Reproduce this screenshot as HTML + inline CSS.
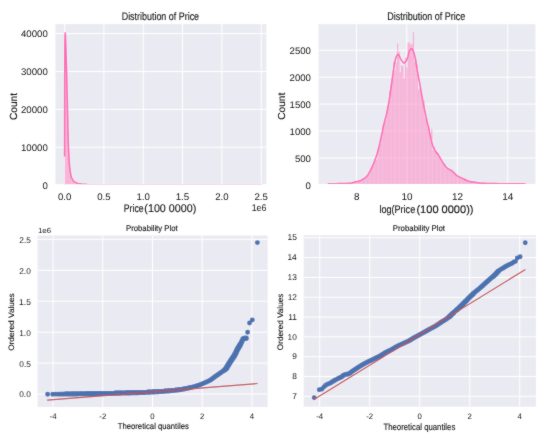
<!DOCTYPE html>
<html><head><meta charset="utf-8"><title>Price distribution</title>
<style>html,body{margin:0;padding:0;background:#fff;overflow:hidden}svg{display:block}</style>
</head><body><svg width="550" height="434" viewBox="0 0 550 434"><defs><filter id="bl" x="0" y="0" width="100%" height="100%" filterUnits="userSpaceOnUse"><feConvolveMatrix order="3" kernelMatrix="1 2 1 2 28 2 1 2 1" edgeMode="duplicate" preserveAlpha="false"/></filter></defs><g filter="url(#bl)"><rect x="0" y="0" width="550" height="434" fill="#fff"/><clipPath id="cTL"><rect x="55.5" y="24.1" width="210.8" height="160.1"/></clipPath><rect x="55.5" y="24.1" width="210.8" height="160.1" fill="#EAEAF2"/><path d="M64.6 24.1V184.2M103.92 24.1V184.2M143.25 24.1V184.2M182.57 24.1V184.2M221.9 24.1V184.2M261.23 24.1V184.2M55.5 185.2H266.3M55.5 147.3H266.3M55.5 109.4H266.3M55.5 71.5H266.3M55.5 33.6H266.3" stroke="#fff" stroke-width="1.0" fill="none" clip-path="url(#cTL)"/><clipPath id="cTR"><rect x="318.6" y="24.2" width="216.8" height="159.8"/></clipPath><rect x="318.6" y="24.2" width="216.8" height="159.8" fill="#EAEAF2"/><path d="M356.4 24.2V184M406.84 24.2V184M457.28 24.2V184M507.72 24.2V184M318.6 184.8H535.4M318.6 157.9H535.4M318.6 131H535.4M318.6 104.1H535.4M318.6 77.2H535.4M318.6 50.3H535.4" stroke="#fff" stroke-width="1.0" fill="none" clip-path="url(#cTR)"/><clipPath id="cBL"><rect x="37.6" y="235.5" width="230" height="171.5"/></clipPath><rect x="37.6" y="235.5" width="230" height="171.5" fill="#EAEAF2"/><path d="M53.1 235.5V407M102.8 235.5V407M152.5 235.5V407M202.2 235.5V407M251.9 235.5V407M37.6 394.05H267.6M37.6 363.12H267.6M37.6 332.19H267.6M37.6 301.26H267.6M37.6 270.33H267.6M37.6 239.4H267.6" stroke="#fff" stroke-width="1.0" fill="none" clip-path="url(#cBL)"/><clipPath id="cBR"><rect x="303.7" y="235.1" width="232.2" height="171.6"/></clipPath><rect x="303.7" y="235.1" width="232.2" height="171.6" fill="#EAEAF2"/><path d="M319.7 235.1V406.7M369.7 235.1V406.7M419.7 235.1V406.7M469.7 235.1V406.7M519.7 235.1V406.7M303.7 396.3H535.9M303.7 376.49H535.9M303.7 356.68H535.9M303.7 336.87H535.9M303.7 317.06H535.9M303.7 297.25H535.9M303.7 277.44H535.9M303.7 257.63H535.9M303.7 237.82H535.9" stroke="#fff" stroke-width="1.0" fill="none" clip-path="url(#cBR)"/><g clip-path="url(#cTR)"><path d="M328.6 184.8V183.63h1.31V184.8zM329.92 184.8V183.86h1.31V184.8zM331.23 184.8V183.68h1.31V184.8zM332.55 184.8V183.72h1.31V184.8zM333.86 184.8V183.7h1.31V184.8zM335.18 184.8V183.66h1.31V184.8zM336.49 184.8V183.75h1.31V184.8zM337.81 184.8V183.63h1.31V184.8zM339.12 184.8V183.64h1.31V184.8zM340.44 184.8V183.36h1.31V184.8zM341.75 184.8V183.52h1.31V184.8zM343.06 184.8V183.52h1.31V184.8zM344.38 184.8V183.47h1.31V184.8zM345.69 184.8V183.45h1.31V184.8zM347.01 184.8V183.42h1.31V184.8zM348.32 184.8V183.29h1.31V184.8zM349.64 184.8V183.12h1.31V184.8zM350.95 184.8V183h1.31V184.8zM352.27 184.8V182.47h1.31V184.8zM353.58 184.8V182.14h1.31V184.8zM354.9 184.8V181.78h1.31V184.8zM356.21 184.8V181.31h1.31V184.8zM357.53 184.8V181.24h1.31V184.8zM358.84 184.8V181.1h1.31V184.8zM360.16 184.8V180.49h1.31V184.8zM361.47 184.8V179.59h1.31V184.8zM362.79 184.8V178.34h1.31V184.8zM364.1 184.8V178.1h1.31V184.8zM365.42 184.8V177.01h1.31V184.8zM366.73 184.8V175.02h1.31V184.8zM368.05 184.8V173.96h1.31V184.8zM369.36 184.8V171.37h1.31V184.8zM370.68 184.8V167.85h1.31V184.8zM371.99 184.8V165.16h1.31V184.8zM373.31 184.8V162.47h1.31V184.8zM374.62 184.8V158.24h1.31V184.8zM375.94 184.8V159.42h1.31V184.8zM377.25 184.8V149.17h1.31V184.8zM378.57 184.8V147.69h1.31V184.8zM379.88 184.8V143.89h1.31V184.8zM381.2 184.8V133.28h1.31V184.8zM382.51 184.8V125.31h1.31V184.8zM383.83 184.8V123.14h1.31V184.8zM385.14 184.8V120.62h1.31V184.8zM386.46 184.8V111.19h1.31V184.8zM387.77 184.8V104.64h1.31V184.8zM389.09 184.8V90.49h1.31V184.8zM390.4 184.8V83.91h1.31V184.8zM391.72 184.8V76.96h1.31V184.8zM393.03 184.8V61.8h1.31V184.8zM394.35 184.8V70h1.31V184.8zM395.66 184.8V62.39h1.31V184.8zM396.98 184.8V43.4h1.31V184.8zM398.29 184.8V51.32h1.31V184.8zM399.61 184.8V72h1.31V184.8zM400.92 184.8V65.18h1.31V184.8zM402.24 184.8V66h1.31V184.8zM403.55 184.8V78.18h1.31V184.8zM404.87 184.8V57.65h1.31V184.8zM406.18 184.8V67.6h1.31V184.8zM407.5 184.8V43h1.31V184.8zM408.81 184.8V42.3h1.31V184.8zM410.13 184.8V44.5h1.31V184.8zM411.44 184.8V43.71h1.31V184.8zM412.76 184.8V32.2h1.31V184.8zM414.07 184.8V61.72h1.31V184.8zM415.39 184.8V58.82h1.31V184.8zM416.7 184.8V64.29h1.31V184.8zM418.02 184.8V89.43h1.31V184.8zM419.33 184.8V87.45h1.31V184.8zM420.65 184.8V90.81h1.31V184.8zM421.96 184.8V102.38h1.31V184.8zM423.28 184.8V100.52h1.31V184.8zM424.59 184.8V117.41h1.31V184.8zM425.91 184.8V118.08h1.31V184.8zM427.22 184.8V128.15h1.31V184.8zM428.54 184.8V126.84h1.31V184.8zM429.85 184.8V142.5h1.31V184.8zM431.17 184.8V129h1.31V184.8zM432.48 184.8V149.9h1.31V184.8zM433.8 184.8V146.48h1.31V184.8zM435.11 184.8V150.34h1.31V184.8zM436.43 184.8V152.11h1.31V184.8zM437.74 184.8V153.36h1.31V184.8zM439.06 184.8V156.7h1.31V184.8zM440.37 184.8V160.28h1.31V184.8zM441.69 184.8V162.62h1.31V184.8zM443 184.8V164.53h1.31V184.8zM444.32 184.8V164.29h1.31V184.8zM445.63 184.8V168.5h1.31V184.8zM446.95 184.8V168.8h1.31V184.8zM448.26 184.8V169.38h1.31V184.8zM449.58 184.8V169.68h1.31V184.8zM450.89 184.8V170.24h1.31V184.8zM452.21 184.8V172.53h1.31V184.8zM453.52 184.8V174.01h1.31V184.8zM454.84 184.8V174.3h1.31V184.8zM456.15 184.8V174.86h1.31V184.8zM457.47 184.8V175.96h1.31V184.8zM458.78 184.8V176.93h1.31V184.8zM460.1 184.8V177.78h1.31V184.8zM461.41 184.8V178.18h1.31V184.8zM462.73 184.8V178.94h1.31V184.8zM464.04 184.8V179.26h1.31V184.8zM465.36 184.8V180.3h1.31V184.8zM466.67 184.8V180.68h1.31V184.8zM467.99 184.8V181.21h1.31V184.8zM469.3 184.8V181.43h1.31V184.8zM470.62 184.8V181.73h1.31V184.8zM471.93 184.8V181.59h1.31V184.8zM473.25 184.8V181.94h1.31V184.8zM474.56 184.8V182.15h1.31V184.8zM475.88 184.8V182.81h1.31V184.8zM477.19 184.8V182.85h1.31V184.8zM478.51 184.8V183.04h1.31V184.8zM479.82 184.8V183.04h1.31V184.8zM481.14 184.8V183.36h1.31V184.8zM482.45 184.8V183.16h1.31V184.8zM483.77 184.8V183.24h1.31V184.8zM485.08 184.8V183.47h1.31V184.8zM486.4 184.8V183.49h1.31V184.8zM487.71 184.8V183.51h1.31V184.8zM489.03 184.8V183.49h1.31V184.8zM490.34 184.8V183.48h1.31V184.8zM491.66 184.8V183.42h1.31V184.8zM492.97 184.8V183.58h1.31V184.8zM494.29 184.8V183.54h1.31V184.8zM495.6 184.8V183.6h1.31V184.8zM496.92 184.8V183.52h1.31V184.8zM498.23 184.8V183.6h1.31V184.8zM499.55 184.8V183.58h1.31V184.8zM500.86 184.8V183.73h1.31V184.8zM502.18 184.8V183.69h1.31V184.8zM503.49 184.8V183.74h1.31V184.8zM504.81 184.8V183.62h1.31V184.8zM506.12 184.8V183.68h1.31V184.8zM507.44 184.8V183.74h1.31V184.8zM508.75 184.8V183.76h1.31V184.8zM510.07 184.8V183.72h1.31V184.8zM511.38 184.8V183.79h1.31V184.8zM512.7 184.8V183.81h1.31V184.8zM514.01 184.8V183.74h1.31V184.8zM515.33 184.8V183.65h1.31V184.8zM516.64 184.8V183.79h1.31V184.8zM517.96 184.8V183.81h1.31V184.8zM519.27 184.8V183.85h1.31V184.8zM520.59 184.8V183.86h1.31V184.8zM521.9 184.8V183.77h1.31V184.8zM523.22 184.8V183.76h1.31V184.8zM524.53 184.8V183.8h1.31V184.8zM525.85 184.8V183.78h1.31V184.8z" fill="rgba(255,105,180,0.5)" stroke="#fff" stroke-width="0.13"/><polyline points="327.8,183.75 328.3,183.75 328.8,183.74 329.3,183.74 329.8,183.73 330.3,183.73 330.8,183.72 331.3,183.71 331.8,183.71 332.3,183.7 332.8,183.7 333.3,183.69 333.8,183.68 334.3,183.67 334.8,183.67 335.3,183.66 335.8,183.65 336.3,183.65 336.8,183.64 337.3,183.63 337.8,183.62 338.3,183.61 338.8,183.61 339.3,183.6 339.8,183.59 340.3,183.58 340.8,183.57 341.3,183.56 341.8,183.55 342.3,183.53 342.8,183.52 343.3,183.51 343.8,183.49 344.3,183.48 344.8,183.46 345.3,183.45 345.8,183.43 346.3,183.41 346.8,183.39 347.3,183.36 347.8,183.33 348.3,183.31 348.8,183.27 349.3,183.24 349.8,183.2 350.3,183.16 350.8,183.11 351.3,183.04 351.8,182.93 352.3,182.79 352.8,182.62 353.3,182.44 353.8,182.26 354.3,182.09 354.8,181.95 355.3,181.83 355.8,181.74 356.3,181.65 356.8,181.57 357.3,181.49 357.8,181.41 358.3,181.31 358.8,181.2 359.3,181.07 359.8,180.9 360.3,180.7 360.8,180.46 361.3,180.2 361.8,179.92 362.3,179.62 362.8,179.31 363.3,179 363.8,178.68 364.3,178.34 364.8,177.98 365.3,177.59 365.8,177.17 366.3,176.71 366.8,176.2 367.3,175.61 367.8,174.91 368.3,174.13 368.8,173.3 369.3,172.45 369.8,171.57 370.3,170.65 370.8,169.67 371.3,168.65 371.8,167.59 372.3,166.5 372.8,165.37 373.3,164.2 373.8,162.99 374.3,161.72 374.8,160.41 375.3,159.05 375.8,157.63 376.3,156.16 376.8,154.61 377.3,153 377.8,151.3 378.3,149.49 378.8,147.55 379.3,145.52 379.8,143.43 380.3,141.26 380.8,138.99 381.3,136.65 381.8,134.26 382.3,131.81 382.8,129.22 383.3,126.69 383.8,124.44 384.3,122.45 384.8,120.6 385.3,118.81 385.8,116.98 386.3,115 386.8,112.79 387.3,110.4 387.8,107.85 388.3,105.17 388.8,102.35 389.3,99.41 389.8,96.35 390.3,93 390.8,89.45 391.3,85.81 391.8,82.21 392.3,78.58 392.8,74.75 393.3,71 393.8,67.59 394.3,64.79 394.8,62.27 395.3,59.94 395.8,57.96 396.3,56.5 396.8,55.6 397.3,54.86 397.8,54.39 398.3,54.35 398.8,54.86 399.3,55.77 399.8,56.9 400.3,58.08 400.8,59.12 401.3,59.88 401.8,60.64 402.3,61.39 402.8,62.08 403.3,62.62 403.8,62.94 404.3,62.97 404.8,62.7 405.3,62.19 405.8,61.49 406.3,60.67 406.8,59.78 407.3,58.59 407.8,56.72 408.3,54.56 408.8,52.49 409.3,50.93 409.8,50.18 410.3,49.66 410.8,49.24 411.3,48.94 411.8,48.8 412.3,49.03 412.8,49.85 413.3,51.09 413.8,52.57 414.3,54.12 414.8,56.14 415.3,58.7 415.8,61.63 416.3,64.7 416.8,67.74 417.3,70.54 417.8,73.22 418.3,75.88 418.8,78.55 419.3,81.23 419.8,83.92 420.3,86.65 420.8,89.44 421.3,92.28 421.8,95.14 422.3,97.99 422.8,100.77 423.3,103.46 423.8,106.03 424.3,108.53 424.8,110.97 425.3,113.36 425.8,115.71 426.3,118.02 426.8,120.3 427.3,122.52 427.8,124.67 428.3,126.78 428.8,128.91 429.3,131.1 429.8,133.43 430.3,136.02 430.8,138.62 431.3,140.97 431.8,142.83 432.3,144.37 432.8,145.75 433.3,147 433.8,148.13 434.3,149.15 434.8,150.08 435.3,150.9 435.8,151.63 436.3,152.3 436.8,152.94 437.3,153.56 437.8,154.21 438.3,154.9 438.8,155.66 439.3,156.47 439.8,157.32 440.3,158.19 440.8,159.06 441.3,159.94 441.8,160.79 442.3,161.62 442.8,162.4 443.3,163.14 443.8,163.89 444.3,164.63 444.8,165.36 445.3,166.04 445.8,166.66 446.3,167.22 446.8,167.69 447.3,168.09 447.8,168.44 448.3,168.76 448.8,169.06 449.3,169.33 449.8,169.61 450.3,169.88 450.8,170.17 451.3,170.48 451.8,170.83 452.3,171.21 452.8,171.65 453.3,172.11 453.8,172.6 454.3,173.11 454.8,173.61 455.3,174.1 455.8,174.58 456.3,175.02 456.8,175.42 457.3,175.77 457.8,176.08 458.3,176.38 458.8,176.67 459.3,176.94 459.8,177.2 460.3,177.45 460.8,177.69 461.3,177.92 461.8,178.15 462.3,178.38 462.8,178.6 463.3,178.83 463.8,179.05 464.3,179.29 464.8,179.52 465.3,179.77 465.8,180.01 466.3,180.24 466.8,180.47 467.3,180.69 467.8,180.89 468.3,181.08 468.8,181.24 469.3,181.38 469.8,181.49 470.3,181.59 470.8,181.68 471.3,181.76 471.8,181.84 472.3,181.91 472.8,181.98 473.3,182.05 473.8,182.12 474.3,182.19 474.8,182.27 475.3,182.35 475.8,182.44 476.3,182.53 476.8,182.63 477.3,182.72 477.8,182.81 478.3,182.89 478.8,182.95 479.3,183 479.8,183.04 480.3,183.08 480.8,183.11 481.3,183.14 481.8,183.18 482.3,183.21 482.8,183.23 483.3,183.26 483.8,183.29 484.3,183.31 484.8,183.33 485.3,183.35 485.8,183.38 486.3,183.39 486.8,183.41 487.3,183.43 487.8,183.44 488.3,183.46 488.8,183.47 489.3,183.48 489.8,183.5 490.3,183.51 490.8,183.52 491.3,183.53 491.8,183.54 492.3,183.55 492.8,183.55 493.3,183.56 493.8,183.57 494.3,183.58 494.8,183.59 495.3,183.6 495.8,183.6 496.3,183.61 496.8,183.62 497.3,183.62 497.8,183.63 498.3,183.64 498.8,183.64 499.3,183.65 499.8,183.65 500.3,183.66 500.8,183.66 501.3,183.67 501.8,183.67 502.3,183.68 502.8,183.68 503.3,183.69 503.8,183.69 504.3,183.69 504.8,183.7 505.3,183.7 505.8,183.71 506.3,183.71 506.8,183.71 507.3,183.72 507.8,183.72 508.3,183.72 508.8,183.73 509.3,183.73 509.8,183.73 510.3,183.74 510.8,183.74 511.3,183.74 511.8,183.75 512.3,183.75 512.8,183.75 513.3,183.76 513.8,183.76 514.3,183.76 514.8,183.77 515.3,183.77 515.8,183.77 516.3,183.77 516.8,183.78 517.3,183.78 517.8,183.78 518.3,183.78 518.8,183.79 519.3,183.79 519.8,183.79 520.3,183.79 520.8,183.79 521.3,183.79 521.8,183.8 522.3,183.8 522.8,183.8 523.3,183.8 523.8,183.8 524.3,183.8 524.8,183.8 525.3,183.8" fill="none" stroke="#FF69B4" stroke-width="1.5" stroke-linejoin="round"/></g><g clip-path="url(#cTL)"><path d="M64.6 185.2V34.5h1.15V185.2zM65.75 185.2V62h1.15V185.2zM66.9 185.2V118h1.15V185.2zM68.05 185.2V152h1.15V185.2zM69.2 185.2V168h1.15V185.2zM70.35 185.2V175.5h1.15V185.2zM71.5 185.2V179.5h1.15V185.2zM72.65 185.2V181.8h1.15V185.2zM73.8 185.2V183h1.15V185.2zM74.95 185.2V183.6h1.15V185.2zM76.1 185.2V184h1.15V185.2zM77.25 185.2V184.3h1.15V185.2zM78.4 185.2V184.5h1.15V185.2zM79.55 185.2V184.6h1.15V185.2z" fill="rgba(255,105,180,0.5)" stroke="#fff" stroke-width="0.12"/><polyline points="64.6,156.4 64.7,80 64.85,45 65.05,35 65.25,32.7 65.5,36 65.8,45 66.2,58 66.7,75 67.3,100 67.9,128 68.4,145 68.9,156 69.5,165.5 70.4,172.5 71.3,177.1 73,180.6 75,182.3 78,183.5 82,184.1 87.3,184.5 100,184.7 262,184.75" fill="none" stroke="#FF69B4" stroke-width="1.5" stroke-linejoin="round"/></g><g clip-path="url(#cBR)"><path d="M319.28 389.7h0M322.07 388.97h0M324 386.84h0M325.49 385.53h0M326.71 384.66h0M327.73 384.14h0M328.63 383.78h0M329.42 383.47h0M330.13 383.14h0M330.77 382.79h0M331.36 382.45h0M331.9 382.11h0M332.41 381.8h0M332.88 381.49h0M333.32 381.21h0M333.74 380.94h0M334.14 380.69h0M334.51 380.45h0M334.87 380.23h0M335.21 380.03h0M335.53 379.85h0M335.84 379.68h0M336.43 379.37h0M336.97 379.1h0M337.48 378.86h0M337.96 378.64h0M338.4 378.43h0M338.83 378.24h0M339.23 378.05h0M339.61 377.87h0M339.97 377.7h0M340.32 377.53h0M340.65 377.36h0M340.97 377.19h0M341.43 376.94h0M341.86 376.68h0M342.27 376.38h0M342.66 376.09h0M343.03 375.79h0M343.39 375.52h0M343.73 375.27h0M344.06 375.05h0M344.37 374.86h0M344.77 374.68h0M345.16 374.56h0M345.52 374.48h0M345.87 374.41h0M346.29 374.35h0M346.69 374.3h0M347.08 374.25h0M347.44 374.2h0M347.79 374.14h0M348.2 374.05h0M348.58 373.94h0M348.95 373.8h0M349.31 373.62h0M349.65 373.42h0M349.97 373.21h0M350.29 372.98h0M350.6 372.76h0M350.89 372.52h0M351.18 372.3h0M351.46 372.07h0M351.77 371.82h0M352.08 371.58h0M352.37 371.35h0M352.65 371.14h0M352.97 370.92h0M353.27 370.72h0M353.57 370.52h0M353.89 370.31h0M354.2 370.1h0M354.5 369.9h0M354.8 369.7h0M355.11 369.5h0M355.42 369.29h0M355.71 369.1h0M356.03 368.89h0M356.33 368.69h0M356.63 368.5h0M356.94 368.29h0M357.24 368.09h0M357.54 367.9h0M357.85 367.7h0M358.15 367.51h0M358.46 367.31h0M358.77 367.12h0M359.08 366.92h0M359.39 366.73h0M359.69 366.54h0M360 366.35h0M360.3 366.16h0M360.61 365.97h0M360.91 365.78h0M361.22 365.59h0M361.52 365.4h0M361.83 365.22h0M362.13 365.03h0M362.44 364.85h0M362.75 364.66h0M363.05 364.48h0M363.37 364.3h0M363.68 364.12h0M363.99 363.94h0M364.3 363.77h0M364.62 363.59h0M364.92 363.42h0M365.23 363.26h0M365.55 363.09h0M365.86 362.92h0M366.18 362.75h0M366.51 362.59h0M366.82 362.43h0M367.13 362.27h0M367.45 362.11h0M367.77 361.95h0M368.09 361.79h0M368.41 361.63h0M368.73 361.48h0M369.05 361.32h0M369.37 361.16h0M369.69 361h0M370.01 360.84h0M370.33 360.68h0M370.65 360.53h0M370.97 360.37h0M371.29 360.21h0M371.61 360.06h0M371.93 359.9h0M372.25 359.75h0M372.56 359.6h0M372.88 359.44h0M373.2 359.29h0M373.52 359.14h0M373.84 358.99h0M374.16 358.83h0M374.48 358.68h0M374.8 358.53h0M375.11 358.38h0M375.43 358.22h0M375.75 358.07h0M376.07 357.92h0M376.39 357.76h0M376.7 357.61h0M377.02 357.46h0M377.34 357.31h0M377.66 357.16h0M377.98 357.01h0M378.3 356.86h0M378.62 356.71h0M378.93 356.55h0M379.25 356.39h0M379.56 356.23h0M379.87 356.07h0M380.18 355.9h0M380.49 355.73h0M380.8 355.55h0M381.1 355.36h0M381.39 355.18h0M381.69 354.99h0M381.99 354.8h0M382.28 354.61h0M382.58 354.42h0M382.87 354.22h0M383.17 354.03h0M383.46 353.84h0M383.76 353.64h0M384.05 353.45h0M384.35 353.26h0M384.65 353.08h0M384.95 352.89h0M385.25 352.71h0M385.55 352.54h0M385.86 352.37h0M386.17 352.2h0M386.48 352.04h0M386.79 351.88h0M387.11 351.72h0M387.42 351.57h0M387.74 351.41h0M388.06 351.26h0M388.38 351.11h0M388.69 350.96h0M389.01 350.82h0M389.33 350.67h0M389.65 350.52h0M389.96 350.37h0M390.28 350.21h0M390.6 350.06h0M390.91 349.9h0M391.22 349.74h0M391.54 349.58h0M391.84 349.42h0M392.15 349.25h0M392.46 349.08h0M392.76 348.9h0M393.07 348.73h0M393.37 348.55h0M393.67 348.37h0M393.98 348.19h0M394.28 348.01h0M394.58 347.84h0M394.88 347.66h0M395.19 347.48h0M395.49 347.3h0M395.79 347.13h0M396.1 346.95h0M396.4 346.78h0M396.71 346.61h0M397.02 346.45h0M397.33 346.28h0M397.64 346.12h0M397.95 345.97h0M398.27 345.81h0M398.59 345.66h0M398.9 345.5h0M399.22 345.35h0M399.53 345.2h0M399.85 345.05h0M400.17 344.91h0M400.49 344.76h0M400.81 344.61h0M401.13 344.47h0M401.45 344.32h0M401.76 344.17h0M402.08 344.03h0M402.4 343.88h0M402.72 343.73h0M403.04 343.58h0M403.36 343.43h0M403.67 343.29h0M403.99 343.14h0M404.31 343h0M404.63 342.85h0M404.95 342.71h0M405.27 342.57h0M405.59 342.42h0M405.91 342.28h0M406.23 342.14h0M406.55 341.99h0M406.87 341.84h0M407.19 341.69h0M407.5 341.54h0M407.82 341.39h0M408.14 341.24h0M408.45 341.08h0M408.76 340.92h0M409.07 340.76h0M409.38 340.59h0M409.69 340.42h0M409.99 340.25h0M410.3 340.07h0M410.6 339.89h0M410.9 339.72h0M411.2 339.54h0M411.5 339.35h0M411.8 339.17h0M412.1 338.99h0M412.4 338.81h0M412.7 338.62h0M413 338.44h0M413.3 338.26h0M413.6 338.08h0M413.9 337.9h0M414.2 337.73h0M414.51 337.55h0M414.81 337.38h0M415.12 337.21h0M415.43 337.04h0M415.73 336.87h0M416.04 336.7h0M416.35 336.53h0M416.66 336.37h0M416.97 336.2h0M417.27 336.03h0M417.58 335.87h0M417.89 335.7h0M418.2 335.54h0M418.51 335.37h0M418.82 335.2h0M419.13 335.04h0M419.44 334.87h0M419.74 334.7h0M420.05 334.54h0M420.36 334.37h0M420.67 334.2h0M420.98 334.03h0M421.28 333.86h0M421.59 333.69h0M421.9 333.52h0M422.2 333.36h0M422.51 333.19h0M422.82 333.02h0M423.13 332.85h0M423.43 332.68h0M423.74 332.51h0M424.05 332.34h0M424.35 332.17h0M424.66 332h0M424.97 331.83h0M425.27 331.66h0M425.58 331.49h0M425.89 331.32h0M426.19 331.15h0M426.5 330.98h0M426.8 330.8h0M427.11 330.63h0M427.41 330.46h0M427.72 330.28h0M428.02 330.11h0M428.33 329.94h0M428.63 329.76h0M428.94 329.59h0M429.24 329.42h0M429.55 329.25h0M429.86 329.08h0M430.16 328.91h0M430.47 328.74h0M430.78 328.58h0M431.09 328.42h0M431.4 328.25h0M431.71 328.09h0M432.03 327.93h0M432.34 327.77h0M432.65 327.61h0M432.96 327.45h0M433.27 327.29h0M433.58 327.13h0M433.89 326.96h0M434.2 326.8h0M434.51 326.63h0M434.82 326.46h0M435.12 326.29h0M435.43 326.12h0M435.73 325.94h0M436.03 325.76h0M436.33 325.58h0M436.63 325.39h0M436.92 325.2h0M437.22 325.01h0M437.51 324.82h0M437.8 324.62h0M438.09 324.42h0M438.38 324.23h0M438.67 324.03h0M438.96 323.83h0M439.25 323.63h0M439.54 323.43h0M439.82 323.23h0M440.11 323.03h0M440.4 322.83h0M440.69 322.64h0M440.98 322.44h0M441.28 322.25h0M441.57 322.05h0M441.87 321.86h0M442.16 321.68h0M442.46 321.49h0M442.76 321.31h0M443.06 321.13h0M443.36 320.95h0M443.66 320.77h0M443.96 320.59h0M444.26 320.4h0M444.56 320.22h0M444.86 320.04h0M445.16 319.85h0M445.46 319.67h0M445.75 319.48h0M446.05 319.28h0M446.34 319.09h0M446.63 318.89h0M446.91 318.69h0M447.2 318.48h0M447.48 318.27h0M447.75 318.05h0M448.02 317.83h0M448.29 317.6h0M448.56 317.37h0M448.82 317.14h0M449.08 316.9h0M453.7 312.57h0M453.96 312.34h0M454.22 312.1h0M454.49 311.87h0M454.75 311.64h0M455.01 311.41h0M455.28 311.17h0M455.54 310.94h0M455.81 310.71h0M456.07 310.47h0M456.34 310.24h0M456.6 310h0M456.86 309.77h0M473.32 293.7h0M473.59 293.46h0M473.86 293.22h0M474.13 292.98h0M474.4 292.74h0M474.67 292.51h0M474.95 292.27h0M475.22 292.04h0M475.49 291.81h0M475.76 291.58h0M476.03 291.35h0M476.32 291.12h0M476.59 290.9h0M476.87 290.68h0M477.16 290.46h0M477.44 290.24h0M477.73 290.02h0M478.01 289.79h0M478.28 289.56h0M478.56 289.33h0M478.85 289.09h0M479.12 288.86h0M479.4 288.61h0M479.67 288.38h0M479.95 288.14h0M480.21 287.9h0M480.48 287.66h0M480.76 287.42h0M481.03 287.18h0M481.3 286.94h0M481.58 286.69h0M481.84 286.46h0M482.11 286.21h0M482.38 285.97h0M482.67 285.71h0M482.93 285.47h0M483.21 285.23h0M483.49 284.98h0M483.78 284.72h0M484.04 284.48h0M484.32 284.24h0M484.6 283.99h0M484.9 283.73h0M485.16 283.49h0M485.44 283.24h0M485.72 282.99h0M486.01 282.73h0M486.28 282.49h0M486.55 282.25h0M486.83 282h0M487.11 281.74h0M487.41 281.47h0M487.67 281.24h0M487.94 281h0M488.22 280.75h0M488.51 280.49h0M488.8 280.23h0M489.11 279.95h0M489.37 279.72h0M489.64 279.47h0M489.92 279.22h0M490.21 278.97h0M490.51 278.71h0M490.82 278.43h0M491.14 278.15h0M491.4 277.92h0M491.68 277.68h0M491.96 277.44h0M492.25 277.18h0M492.55 276.92h0M492.86 276.64h0M493.19 276.35h0M498.12 271.41h0M498.43 271.13h0M498.75 270.86h0M499.08 270.61h0M499.43 270.36h0M499.79 270.11h0M500.17 269.86h0M500.57 269.61h0M501 269.35h0M501.44 269.09h0M501.92 268.81h0M502.43 268.52h0M502.97 268.2h0M503.56 267.84h0M503.87 267.65h0M504.19 267.45h0M504.53 267.24h0M504.89 267.02h0M505.26 266.79h0M505.66 266.55h0M506.08 266.3h0M506.52 266.04h0M506.99 265.77h0M507.5 265.48h0M508.04 265.18h0M508.63 264.87h0M509.27 264.57h0M509.98 264.25h0M510.77 263.88h0M511.67 263.44h0M512.69 262.84h0M513.91 261.97h0M515.4 261.4h0" stroke="#4C72B0" stroke-width="4.9" stroke-linecap="round" fill="none"/><path d="M449.34 316.67h0M449.6 316.43h0M449.85 316.19h0M450.11 315.95h0M450.36 315.7h0M450.62 315.46h0M450.87 315.22h0M451.12 314.97h0M451.38 314.73h0M451.63 314.48h0M451.89 314.24h0M452.14 314h0M452.4 313.75h0M452.66 313.51h0M452.91 313.28h0M453.18 313.04h0M453.44 312.81h0M457.12 309.54h0M457.39 309.3h0M457.65 309.06h0M457.91 308.83h0M458.17 308.59h0M458.43 308.35h0M458.69 308.11h0M458.94 307.87h0M459.2 307.63h0M459.45 307.38h0M459.71 307.14h0M459.96 306.89h0M460.22 306.65h0M460.47 306.4h0M460.72 306.16h0M460.97 305.91h0M461.22 305.67h0M461.47 305.42h0M461.73 305.17h0M461.98 304.92h0M462.23 304.67h0M462.48 304.42h0M462.72 304.18h0M462.97 303.93h0M463.22 303.68h0M463.47 303.43h0M463.73 303.18h0M463.98 302.92h0M464.23 302.67h0M464.48 302.42h0M464.72 302.18h0M464.97 301.93h0M465.22 301.68h0M465.47 301.42h0M465.72 301.17h0M465.96 300.91h0M466.21 300.66h0M466.45 300.4h0M466.7 300.14h0M466.95 299.89h0M467.19 299.63h0M467.44 299.38h0M467.68 299.12h0M467.93 298.87h0M468.18 298.61h0M468.43 298.36h0M468.68 298.1h0M468.93 297.85h0M469.18 297.6h0M469.43 297.35h0M469.68 297.1h0M469.94 296.85h0M470.2 296.6h0M470.45 296.35h0M470.72 296.1h0M470.97 295.86h0M471.24 295.61h0M471.5 295.37h0M471.76 295.13h0M472.02 294.89h0M472.28 294.65h0M472.54 294.41h0M472.8 294.17h0M473.06 293.93h0M493.53 276.05h0M493.79 275.81h0M494.06 275.57h0M494.34 275.31h0M494.63 275.04h0M494.93 274.76h0M495.24 274.46h0M495.56 274.14h0M495.9 273.79h0M496.25 273.41h0M496.49 273.14h0M496.74 272.87h0M497 272.58h0M497.26 272.29h0M497.54 271.99h0M497.82 271.7h0" stroke="#4C72B0" stroke-width="5.3" stroke-linecap="round" fill="none"/><path d="M314.17 397.6h0M517.33 258h0M520.12 256.8h0M525.23 242.7h0" stroke="#4C72B0" stroke-width="4.9" stroke-linecap="round" fill="none"/><path d="M313.5 399.8L525.4 269.5" stroke="#C44E52" stroke-width="1.2" fill="none"/></g><g clip-path="url(#cBL)"><path d="M52.69 394.2h0M55.45 394.17h0M57.38 394.16h0M58.86 394.14h0M60.06 394.13h0M61.09 394.12h0M61.97 394.11h0M62.76 394.1h0M63.46 394.1h0M64.1 394.09h0M64.69 394.08h0M65.23 394.08h0M65.73 394.07h0M66.2 394.07h0M66.64 394.06h0M67.06 394.06h0M67.45 394.05h0M67.82 394.05h0M68.18 394.04h0M68.84 394.04h0M69.44 394.03h0M70.01 394.02h0M70.53 394.02h0M71.02 394.01h0M71.47 394.01h0M71.91 394h0M72.32 394h0M72.7 393.99h0M73.07 393.99h0M73.43 393.98h0M73.93 393.98h0M74.4 393.97h0M74.84 393.96h0M75.27 393.96h0M75.67 393.95h0M76.05 393.95h0M76.41 393.95h0M76.87 393.94h0M77.31 393.93h0M77.72 393.93h0M78.12 393.92h0M78.5 393.92h0M78.86 393.91h0M79.29 393.91h0M79.7 393.9h0M80.09 393.9h0M80.46 393.89h0M80.82 393.89h0M81.23 393.88h0M81.62 393.88h0M81.99 393.87h0M82.35 393.87h0M82.76 393.86h0M83.14 393.86h0M83.51 393.85h0M83.86 393.85h0M84.25 393.84h0M84.62 393.84h0M84.98 393.83h0M85.37 393.83h0M85.74 393.82h0M86.09 393.82h0M86.47 393.81h0M86.84 393.81h0M87.19 393.8h0M87.56 393.8h0M87.92 393.79h0M88.3 393.79h0M88.66 393.78h0M89.04 393.78h0M89.4 393.77h0M89.75 393.77h0M90.12 393.76h0M90.47 393.75h0M90.83 393.75h0M91.18 393.74h0M91.54 393.74h0M91.91 393.73h0M92.27 393.73h0M92.63 393.72h0M92.98 393.72h0M93.34 393.71h0M93.71 393.7h0M94.06 393.7h0M94.42 393.69h0M94.78 393.69h0M95.13 393.68h0M95.49 393.68h0M95.85 393.67h0M96.21 393.66h0M96.57 393.66h0M96.92 393.65h0M97.28 393.65h0M97.63 393.64h0M97.99 393.63h0M98.35 393.63h0M98.71 393.62h0M99.07 393.62h0M99.42 393.61h0M99.78 393.6h0M100.14 393.6h0M100.5 393.59h0M100.85 393.59h0M101.21 393.58h0M101.56 393.57h0M101.91 393.57h0M102.26 393.56h0M102.62 393.55h0M102.98 393.55h0M103.33 393.54h0M103.68 393.53h0M104.04 393.53h0M104.39 393.52h0M104.74 393.51h0M105.1 393.51h0M105.45 393.5h0M105.8 393.49h0M106.16 393.49h0M106.51 393.48h0M106.87 393.47h0M107.22 393.47h0M107.57 393.46h0M107.93 393.45h0M108.28 393.45h0M108.63 393.44h0M108.98 393.43h0M109.33 393.43h0M109.69 393.42h0M110.04 393.41h0M110.39 393.41h0M110.74 393.4h0M111.09 393.39h0M111.45 393.38h0M111.8 393.38h0M112.15 393.37h0M112.5 393.36h0M112.85 393.36h0M113.2 393.35h0M113.55 393.34h0M113.9 393.33h0M114.25 393.33h0M114.61 393.32h0M114.96 393.31h0M115.31 393.3h0M115.66 393.3h0M116.01 393.29h0M116.37 393.28h0M116.72 393.27h0M117.07 393.27h0M117.42 393.26h0M117.77 393.25h0M118.12 393.24h0M118.48 393.24h0M118.83 393.23h0M119.18 393.22h0M119.53 393.21h0M119.88 393.2h0M120.23 393.2h0M120.59 393.19h0M120.94 393.18h0M121.29 393.17h0M121.64 393.16h0M121.99 393.15h0M122.34 393.15h0M122.69 393.14h0M123.04 393.13h0M123.39 393.12h0M123.74 393.11h0M124.09 393.1h0M124.44 393.09h0M124.8 393.09h0M125.15 393.08h0M125.5 393.07h0M125.85 393.06h0M126.2 393.05h0M126.55 393.04h0M126.9 393.03h0M127.25 393.02h0M127.6 393.01h0M127.95 393h0M128.3 392.99h0M128.65 392.98h0M129 392.97h0M129.36 392.96h0M129.71 392.95h0M130.06 392.95h0M130.41 392.94h0M130.76 392.93h0M131.11 392.92h0M131.46 392.9h0M131.81 392.89h0M132.16 392.88h0M132.51 392.87h0M132.86 392.86h0M133.21 392.85h0M133.56 392.84h0M133.91 392.83h0M134.26 392.82h0M134.61 392.81h0M134.96 392.8h0M135.31 392.79h0M135.67 392.78h0M136.02 392.77h0M136.37 392.75h0M136.72 392.74h0M137.07 392.73h0M137.42 392.72h0M137.77 392.71h0M138.12 392.7h0M138.47 392.68h0M138.82 392.67h0M139.17 392.66h0M139.52 392.65h0M139.87 392.63h0M140.22 392.62h0M140.57 392.61h0M140.92 392.59h0M141.28 392.58h0M141.63 392.57h0M141.98 392.55h0M142.33 392.54h0M142.68 392.52h0M143.03 392.51h0M143.38 392.49h0M143.73 392.48h0M144.08 392.46h0M144.43 392.45h0M144.78 392.43h0M145.13 392.42h0M145.48 392.4h0M145.83 392.39h0M146.18 392.37h0M146.53 392.35h0M146.88 392.34h0M147.23 392.32h0M147.58 392.3h0M147.93 392.28h0M148.28 392.27h0M148.63 392.25h0M148.98 392.23h0M149.33 392.21h0M149.68 392.2h0M150.03 392.18h0M150.38 392.16h0M150.73 392.14h0M151.08 392.12h0M151.43 392.1h0M151.78 392.09h0M152.13 392.07h0M152.48 392.05h0M152.83 392.03h0M153.18 392.01h0M153.53 391.99h0M153.88 391.97h0M154.23 391.95h0M154.58 391.93h0M154.93 391.91h0M155.28 391.89h0M155.63 391.87h0M155.98 391.85h0M156.33 391.83h0M156.68 391.8h0M157.03 391.78h0M157.38 391.76h0M157.73 391.74h0M158.08 391.72h0M158.43 391.7h0M158.78 391.68h0M159.13 391.65h0M159.48 391.63h0M159.83 391.61h0M160.18 391.59h0M160.53 391.57h0M160.88 391.54h0M161.23 391.52h0M161.58 391.49h0M161.93 391.47h0M162.28 391.45h0M162.63 391.42h0M162.98 391.39h0M163.33 391.37h0M163.68 391.34h0M164.03 391.31h0M164.38 391.29h0M164.73 391.26h0M165.08 391.23h0M165.42 391.2h0M165.77 391.17h0M166.12 391.14h0M166.47 391.11h0M166.82 391.08h0M167.17 391.05h0M167.52 391.02h0M167.87 390.99h0M168.22 390.96h0M168.57 390.93h0M168.92 390.9h0M169.27 390.87h0M169.62 390.84h0M169.97 390.8h0M170.31 390.77h0M170.66 390.74h0M171.01 390.71h0M171.36 390.67h0M171.71 390.64h0M172.06 390.61h0M172.41 390.57h0M172.76 390.54h0M173.11 390.51h0M173.46 390.47h0M173.81 390.44h0M174.15 390.4h0M174.5 390.36h0M174.85 390.33h0M175.2 390.29h0M175.55 390.25h0M175.9 390.22h0M176.25 390.18h0M176.6 390.14h0M176.94 390.1h0M177.29 390.05h0M177.64 390.01h0M177.99 389.97h0M178.34 389.92h0M178.68 389.88h0M179.03 389.83h0M179.38 389.79h0M179.73 389.74h0M180.08 389.69h0M180.42 389.64h0M180.77 389.59h0M181.12 389.53h0M181.46 389.48h0M181.81 389.42h0M182.16 389.36h0M182.5 389.3h0M182.85 389.24h0M183.19 389.18h0M183.54 389.11h0M183.88 389.05h0M184.23 388.98h0M184.57 388.91h0M184.91 388.84h0M185.26 388.77h0M185.6 388.7h0M185.95 388.63h0M186.29 388.55h0M186.63 388.48h0M186.98 388.4h0M187.32 388.33h0M187.66 388.25h0M188 388.17h0M188.35 388.09h0M188.69 388.01h0M189.03 387.93h0M189.37 387.85h0M189.72 387.77h0M190.06 387.68h0M190.4 387.6h0M190.74 387.51h0M191.09 387.43h0M191.43 387.34h0M191.77 387.26h0M192.11 387.17h0M192.46 387.08h0M192.8 386.99h0M193.14 386.9h0M193.48 386.8h0M193.82 386.71h0M194.16 386.61h0M194.5 386.51h0M194.84 386.41h0M195.17 386.31h0M195.51 386.21h0M195.85 386.1h0M196.18 386h0M196.52 385.89h0M196.85 385.78h0M197.19 385.67h0M197.52 385.56h0M197.86 385.44h0M198.19 385.33h0M198.53 385.22h0M198.86 385.1h0M199.2 384.98h0M199.53 384.87h0M199.86 384.75h0M200.2 384.63h0M200.53 384.51h0M200.86 384.39h0M201.19 384.26h0M201.52 384.13h0M201.86 384h0M202.18 383.87h0M202.51 383.74h0M202.84 383.61h0M203.17 383.47h0M203.49 383.33h0M203.82 383.2h0M204.15 383.06h0M204.47 382.92h0M204.8 382.77h0M205.13 382.63h0M205.45 382.49h0M205.77 382.35h0M206.1 382.21h0M206.43 382.06h0M206.76 381.92h0M207.08 381.77h0M207.4 381.62h0M207.72 381.48h0M208.05 381.32h0M208.37 381.17h0M208.69 381.01h0M209.01 380.85h0M209.33 380.69h0M209.65 380.52h0M209.96 380.35h0M210.27 380.18h0M210.58 379.99h0M210.89 379.8h0M211.18 379.61h0M211.49 379.4h0M211.79 379.2h0M212.07 378.99h0M212.37 378.77h0M212.65 378.56h0M212.94 378.34h0M213.24 378.11h0M213.53 377.89h0M213.82 377.66h0M214.1 377.45h0M214.39 377.22h0M214.68 377h0M214.99 376.77h0M215.27 376.56h0M215.57 376.35h0M215.88 376.13h0M216.19 375.92h0M216.49 375.71h0M216.79 375.5h0M217.11 375.29h0M217.4 375.09h0M217.71 374.88h0M218.02 374.67h0M218.34 374.45h0M218.64 374.25h0M218.95 374.04h0M219.26 373.82h0M219.59 373.59h0M219.89 373.39h0M220.2 373.17h0M220.52 372.94h0M220.85 372.69h0M221.14 372.48h0M221.44 372.27h0M221.75 372.06h0M222.08 371.84h0M222.41 371.61h0M222.71 371.41h0M223.01 371.2h0M223.32 370.97h0M223.64 370.74h0M223.98 370.48h0M224.25 370.26h0M224.54 370.02h0" stroke="#4C72B0" stroke-width="4.9" stroke-linecap="round" fill="none"/><path d="M224.84 369.76h0M225.15 369.47h0M225.47 369.16h0M225.71 368.9h0M225.97 368.62h0M226.23 368.29h0M240.9 343.38h0M241.54 342.1h0M242.24 340.71h0M243.03 338.96h0M243.91 338.37h0M244.94 338.34h0M246.14 338.26h0" stroke="#4C72B0" stroke-width="5.3" stroke-linecap="round" fill="none"/><path d="M226.5 367.91h0M226.78 367.46h0M226.98 367.14h0M227.18 366.8h0M227.38 366.45h0M227.58 366.08h0M227.8 365.7h0M228.02 365.31h0M228.24 364.93h0M228.47 364.55h0M228.71 364.17h0M228.95 363.78h0M229.2 363.38h0M229.46 362.97h0M229.73 362.54h0M230.01 362.1h0M230.3 361.65h0M230.6 361.18h0M230.91 360.69h0M231.24 360.19h0M231.57 359.68h0M231.93 359.16h0M232.3 358.62h0M232.68 358.06h0M232.89 357.76h0M233.09 357.46h0M233.31 357.15h0M233.53 356.82h0M233.75 356.48h0M233.98 356.13h0M234.22 355.75h0M234.47 355.35h0M234.73 354.92h0M234.99 354.47h0M235.27 353.97h0M235.56 353.41h0M235.85 352.78h0M236.16 352.09h0M236.49 351.36h0M236.82 350.6h0M237.18 349.84h0M237.55 349.11h0M237.94 348.41h0M238.36 347.73h0M238.8 347.03h0M239.27 346.29h0M239.77 345.47h0M240.31 344.51h0" stroke="#4C72B0" stroke-width="5.7" stroke-linecap="round" fill="none"/><path d="M47.61 394.2h0M247.62 332.3h0M249.55 323h0M252.31 319.9h0M257.39 242.6h0" stroke="#4C72B0" stroke-width="4.9" stroke-linecap="round" fill="none"/><path d="M47.1 400.1L257.5 383.5" stroke="#C44E52" stroke-width="1.2" fill="none"/></g></g><g font-family="'Liberation Sans', sans-serif" fill="#141414" stroke="#141414" stroke-width="0" text-rendering="geometricPrecision" filter="url(#bl)"><text transform="translate(121.69 19.5) scale(0.8195 1)" font-size="10.90" stroke-width="0.12">Distribution of Price</text><text transform="translate(387.28 19.6) scale(0.8166 1)" font-size="11.03" stroke-width="0.12">Distribution of Price</text><text transform="translate(125.98 231) scale(0.9366 1)" font-size="8.28" stroke-width="0.12">Probability Plot</text><text transform="translate(392.77 231) scale(0.9476 1)" font-size="8.28" stroke-width="0.12">Probability Plot</text><text transform="translate(57.89 200) scale(1.0045 1)" font-size="9.57">0.0</text><text transform="translate(97.24 200) scale(1.0045 1)" font-size="9.57">0.5</text><text transform="translate(136.38 200) scale(1.0045 1)" font-size="9.57">1.0</text><text transform="translate(175.63 200) scale(1.0045 1)" font-size="9.71">1.5</text><text transform="translate(215.15 200) scale(1.0045 1)" font-size="9.57">2.0</text><text transform="translate(254.49 200) scale(1.0045 1)" font-size="9.57">2.5</text><text transform="translate(42.4 188.85) scale(1.0045 1)" font-size="9.57">0</text><text transform="translate(21.01 150.95) scale(1.0045 1)" font-size="9.57">10000</text><text transform="translate(21.01 113.05) scale(1.0045 1)" font-size="9.57">20000</text><text transform="translate(21.01 75.15) scale(1.0045 1)" font-size="9.57">30000</text><text transform="translate(21.01 37.25) scale(1.0045 1)" font-size="9.57">40000</text><text transform="translate(251.74 211) scale(0.9032 1)" font-size="9.71">1e6</text><text transform="translate(123.81 212.4) scale(0.7939 1)" font-size="10.90" stroke-width="0.12">Price</text><text transform="translate(144.36 212.4) scale(0.9606 1)" font-size="11.17" stroke-width="0.12">(100 0000)</text><text transform="translate(353.93 200) scale(1.0045 1)" font-size="9.86">8</text><text transform="translate(401.45 200) scale(1.0045 1)" font-size="9.86">10</text><text transform="translate(451.96 200) scale(1.0045 1)" font-size="9.86">12</text><text transform="translate(502.22 200) scale(1.0045 1)" font-size="10.00">14</text><text transform="translate(305.6 188.55) scale(1.0045 1)" font-size="9.57">0</text><text transform="translate(294.93 161.65) scale(1.0045 1)" font-size="9.57">500</text><text transform="translate(289.54 134.75) scale(1.0045 1)" font-size="9.57">1000</text><text transform="translate(289.54 107.85) scale(1.0045 1)" font-size="9.57">1500</text><text transform="translate(289.54 80.95) scale(1.0045 1)" font-size="9.57">2000</text><text transform="translate(289.54 54.05) scale(1.0045 1)" font-size="9.57">2500</text><text transform="translate(379.41 212.7) scale(0.8328 1)" font-size="10.90" stroke-width="0.12">log(Price</text><text transform="translate(416.44 212.7) scale(1.0132 1)" font-size="10.90" stroke-width="0.12">(100 0000))</text><text transform="translate(49.54 419.4) scale(0.9857 1)" font-size="7.97">-4</text><text transform="translate(99.37 419.4) scale(0.9857 1)" font-size="7.86">-2</text><text transform="translate(150.33 419.4) scale(0.9857 1)" font-size="7.86">0</text><text transform="translate(200.05 419.4) scale(0.9857 1)" font-size="7.86">2</text><text transform="translate(249.76 419.4) scale(0.9857 1)" font-size="7.97">4</text><text transform="translate(19.24 397.45) scale(0.9857 1)" font-size="8.43">0.0</text><text transform="translate(19.28 366.52) scale(0.9857 1)" font-size="8.43">0.5</text><text transform="translate(19.24 335.59) scale(0.9857 1)" font-size="8.43">1.0</text><text transform="translate(19.12 304.66) scale(0.9857 1)" font-size="8.55">1.5</text><text transform="translate(19.24 273.73) scale(0.9857 1)" font-size="8.43">2.0</text><text transform="translate(19.28 242.8) scale(0.9857 1)" font-size="8.43">2.5</text><text transform="translate(37.9 233.1) scale(1.0769 1)" font-size="7.43">1e6</text><text transform="translate(117.75 429.4) scale(0.9011 1)" font-size="8.55" stroke-width="0.12">Theoretical quantiles</text><text transform="translate(316.14 419.4) scale(0.9857 1)" font-size="7.97">-4</text><text transform="translate(366.27 419.4) scale(0.9857 1)" font-size="7.86">-2</text><text transform="translate(417.53 419.4) scale(0.9857 1)" font-size="7.86">0</text><text transform="translate(467.55 419.4) scale(0.9857 1)" font-size="7.86">2</text><text transform="translate(517.56 419.4) scale(0.9857 1)" font-size="7.97">4</text><text transform="translate(292.24 398.95) scale(0.9857 1)" font-size="8.55">7</text><text transform="translate(292.22 379.14) scale(0.9857 1)" font-size="8.43">8</text><text transform="translate(292.26 359.33) scale(0.9857 1)" font-size="8.43">9</text><text transform="translate(287.57 339.52) scale(0.9857 1)" font-size="8.43">10</text><text transform="translate(288.16 319.71) scale(0.9857 1)" font-size="8.55">11</text><text transform="translate(287.69 299.9) scale(0.9857 1)" font-size="8.43">12</text><text transform="translate(287.61 280.09) scale(0.9857 1)" font-size="8.43">13</text><text transform="translate(287.4 260.28) scale(0.9857 1)" font-size="8.55">14</text><text transform="translate(287.48 240.47) scale(0.9857 1)" font-size="8.55">15</text><text transform="translate(383.44 429.9) scale(0.8433 1)" font-size="9.24" stroke-width="0.12">Theoretical quantiles</text><text transform="translate(16.9 119.9) rotate(-90) scale(0.9797 1)" font-size="10.29" stroke-width="0.12">Count</text><text transform="translate(285.2 119.81) rotate(-90) scale(1.0048 1)" font-size="10.14" stroke-width="0.12">Count</text><text transform="translate(14.3 350.87) rotate(-90) scale(1.0584 1)" font-size="7.86" stroke-width="0.12">Ordered Values</text><text transform="translate(283 350.17) rotate(-90) scale(1.0182 1)" font-size="8.00" stroke-width="0.12">Ordered Values</text></g></svg></body></html>
